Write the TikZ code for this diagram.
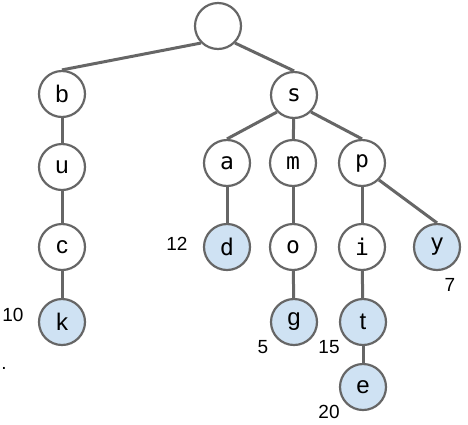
\documentclass[tikz,border=0pt]{standalone}
\usepackage{fontspec}
\setmainfont{Liberation Sans}
\newfontfamily\triemono{DejaVu Sans Mono}
\usetikzlibrary{positioning}

\definecolor{edgegray}{HTML}{666666}
\definecolor{leafblue}{HTML}{CFE2F3}

\tikzset{
  trienode/.style={circle, draw=edgegray, line width=2.2pt, fill=white,
    minimum size=46pt, inner sep=0pt, font=\fontsize{24}{24}\selectfont},
  endnode/.style={trienode, fill=leafblue},
  monoletter/.style={font=\triemono\fontsize{23}{23}\selectfont},
  trieedge/.style={draw=edgegray, line width=3pt},
  countlabel/.style={inner sep=0pt, font=\fontsize{19}{19}\selectfont}
}

\begin{document}
\begin{tikzpicture}[x=1pt, y=-1pt]
\useasboundingbox (0,0) rectangle (468,424);
% root
\node[trienode] (root) at (218,26) {};
% first level
\node[trienode] (b) at (62,94) {b};
\node[trienode, monoletter] (s) at (294,95) {s};
% second level
\node[trienode] (u) at (62,167) {u};
\node[trienode, monoletter] (a) at (227,163) {a};
\node[trienode, monoletter] (m) at (293,163) {m};
\node[trienode, monoletter] (p) at (362,163) {p};
% third level
\node[trienode] (c) at (62,247) {c};
\node[endnode, monoletter] (d) at (227,247) {d};
\node[trienode, monoletter] (o) at (293,247) {o};
\node[trienode, monoletter] (i) at (362,247) {i};
\node[endnode, monoletter] (y) at (437,247) {y};
% fourth level
\node[endnode] (k) at (62,322) {k};
\node[endnode] (g) at (294,322) {g};
\node[endnode] (t) at (363,322) {t};
% fifth level
\node[endnode] (e) at (363,387) {e};

% edges
\draw[trieedge] (root.south west) -- (b.north);
\draw[trieedge] (root.south east) -- (s.north);
\draw[trieedge] (s.south west) -- (a.north);
\draw[trieedge] (s) -- (m);
\draw[trieedge] (s.south east) -- (p.north);
\draw[trieedge] (p.south east) -- (y.north);
\foreach \u/\v in {b/u, u/c, c/k, a/d, m/o, o/g, p/i, i/t, t/e}
  \draw[trieedge] (\u) -- (\v);

% values
\node[countlabel] (vk) at (13,315) {10};
\node[countlabel] (vd) at (177,244) {12};
\node[countlabel] (vg) at (263,347) {5};
\node[countlabel] (vt) at (329,347) {15};
\node[countlabel] (ve) at (329,412) {20};
\node[countlabel] (vy) at (450,285) {7};
\node[countlabel] (dot) at (4,368) {.};
\end{tikzpicture}
\end{document}
